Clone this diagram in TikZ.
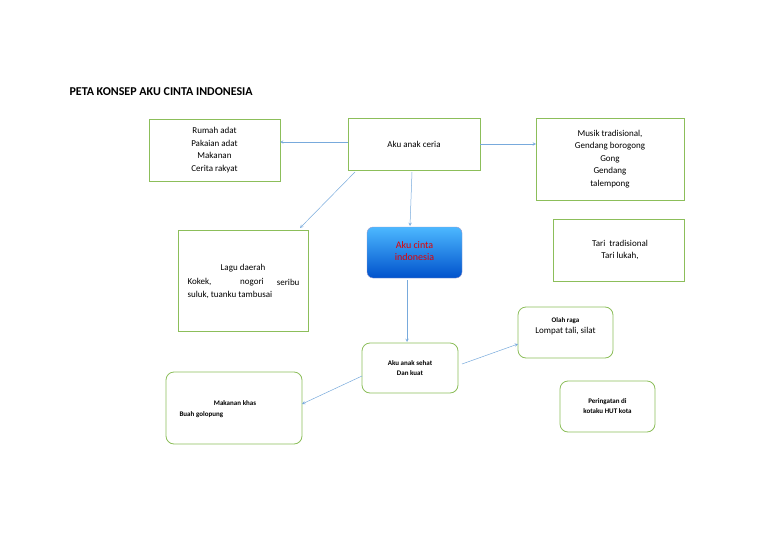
\documentclass[tikz,border=0pt]{standalone}
\usepackage{fontspec}
\setmainfont{Carlito}
\definecolor{gbox}{RGB}{140,190,90}
\definecolor{arrc}{RGB}{120,170,220}
\begin{document}
\begin{tikzpicture}[x=1pt,y=-1pt,
 box/.style={draw=gbox, line width=0.8pt, fill=white},
 rbox/.style={box, rounded corners=8pt},
 arr/.style={draw=arrc, line width=0.5pt, ->, >=stealth},
 t/.style={font=\fontsize{9}{12.5}\selectfont, align=center},
 ts/.style={font=\fontsize{7}{10}\selectfont\bfseries, align=center}]
\useasboundingbox (0,0) rectangle (768,543);
\node[anchor=west, font=\fontsize{12}{14}\selectfont\bfseries] (title) at (66,92) {PETA KONSEP AKU CINTA INDONESIA};
\draw[box] (149,119) rectangle (280,181); \coordinate (rumah) at (280,142);
\node[t] (rumahT) at (214.5,150) {Rumah adat\\Pakaian adat\\Makanan\\Cerita rakyat};
\draw[box] (348,118) rectangle (480,170);
\node[t] (ceria) at (414,144) {Aku anak ceria};
\draw[box] (536,118) rectangle (684,200);
\node[t] (musik) at (610,159) {Musik tradisional,\\Gendang borogong\\Gong\\Gendang\\talempong};
\draw[box] (178,230) rectangle (308,331);
\node[t] (lagu) at (243,268) {Lagu daerah};
\node[t,anchor=west] (k1) at (184,282) {Kokek,};
\node[t] (k2) at (252,282) {nogori};
\node[t,anchor=east] (k3) at (303,282) {seribu};
\node[t,anchor=west] (k4) at (184,295) {suluk, tuanku tambusai};
\shade[top color=blue!40!cyan!70!white, bottom color=blue!60!cyan!80!black, rounded corners=6pt, draw=blue!50!black!40] (367,227) rectangle (462,278);
\node[font=\fontsize{10}{12}\selectfont, text=red!90!black, align=center] (cinta) at (414.5,251) {Aku cinta\\indonesia};
\draw[box] (553,219) rectangle (684,281);
\node[t] (tari) at (620,250) {Tari \ tradisional\\Tari lukah,};
\draw[rbox] (518,307) rectangle (613,358);
\node[align=center] (olah) at (565.5,326) {{\fontsize{7}{9}\selectfont\bfseries Olah raga}\\[-1pt]{\fontsize{9}{11}\selectfont Lompat tali, silat}};
\draw[rbox] (362,343) rectangle (458,393);
\node[ts] (sehat) at (410,368) {Aku anak sehat\\Dan kuat};
\draw[rbox] (166,372) rectangle (302,444);
\node[ts] (mak1) at (235,403) {Makanan khas};
\node[ts,anchor=west] (mak2) at (176,415) {Buah golopung};
\draw[rbox] (560,381) rectangle (655,432);
\node[ts] (peri) at (607.5,406) {Peringatan di\\kotaku HUT kota};
\coordinate (a1) at (348,142); \coordinate (a2) at (480,144); \coordinate (a2e) at (536,144);
\coordinate (a3) at (355,172); \coordinate (a3e) at (300,228);
\coordinate (a4) at (412,172); \coordinate (a4e) at (410,226);
\coordinate (a5) at (407,280); \coordinate (a5e) at (407,342);
\coordinate (a6) at (362,376); \coordinate (a6e) at (302,404);
\coordinate (a7) at (462,364); \coordinate (a7e) at (518,344);
\draw[arr] (a1) -- (rumah);
\draw[arr] (a2) -- (a2e);
\draw[arr] (a3) -- (a3e);
\draw[arr] (a4) -- (a4e);
\draw[arr] (a5) -- (a5e);
\draw[arr] (a6) -- (a6e);
\draw[arr] (a7) -- (a7e);
\end{tikzpicture}
\end{document}
